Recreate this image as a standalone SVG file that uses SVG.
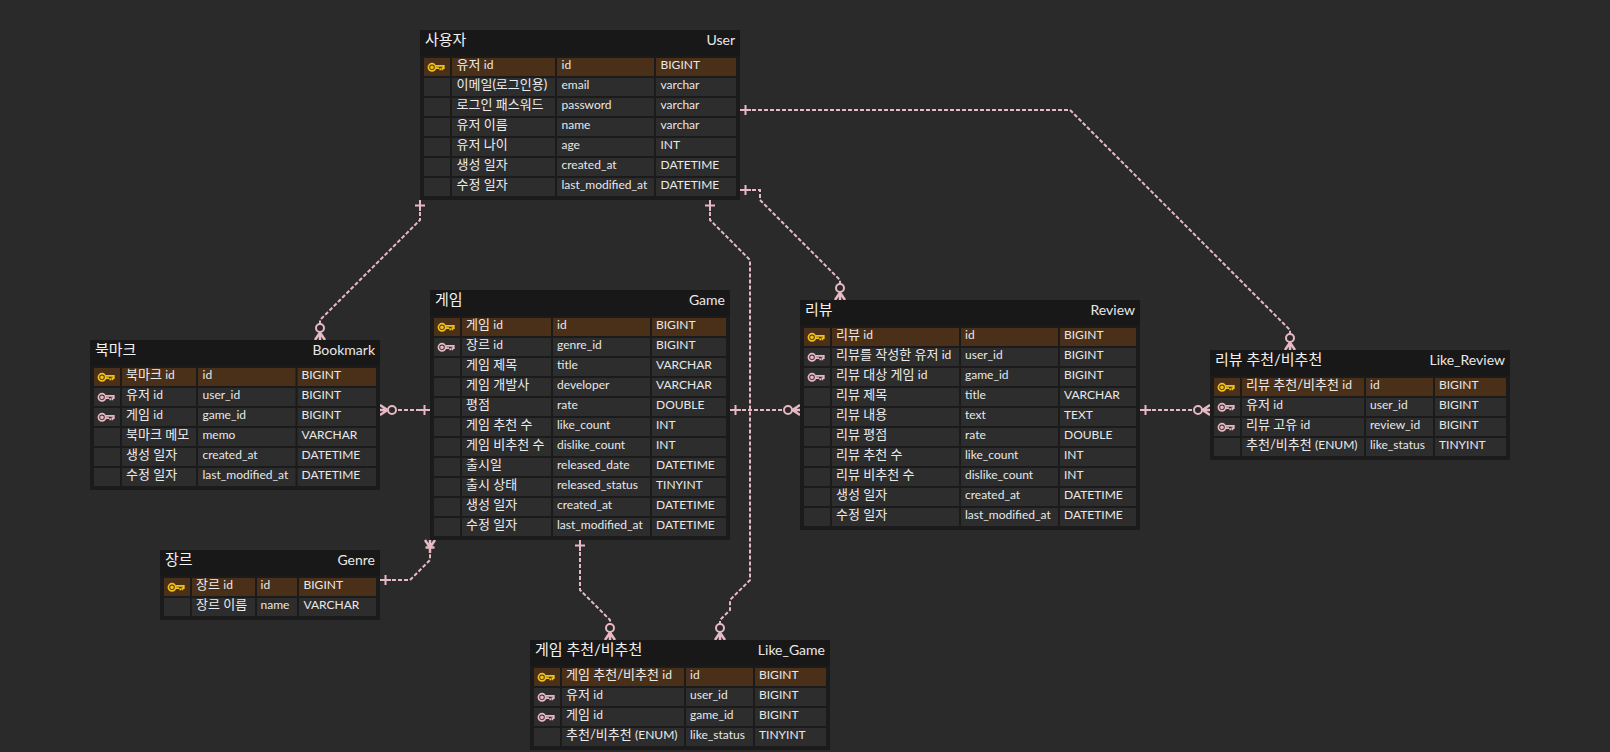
<svg xmlns="http://www.w3.org/2000/svg" width="1610" height="752" viewBox="0 0 1610 752">
<style>
text{font-family:Lato,"Noto Sans CJK KR",sans-serif;font-size:12px;fill:#e8e8e8}
.k{font-size:13px;fill:#ececec}
.l{font-size:12px}
.h{font-size:15px;fill:#f2f2f2}
.e{font-size:14px;text-anchor:end}
.f{fill:#1b1b1b}
.t{fill:#181818}
.r{fill:#2d2d2d}
.p{fill:#4a3019}
.c{fill:none;stroke:#e6b9c4;stroke-width:2;stroke-dasharray:4 2}
.m{fill:none;stroke:#e6b9c4;stroke-width:2}
.w{fill:none;stroke:#e6b9c4;stroke-width:2.500}
.o{fill:#2a2a2a;stroke:#e6b9c4;stroke-width:2}
.kp{color:#f1c21b}
.kf{color:#e6b9c4}
</style>
<defs>
<g id="key" fill="none" stroke="currentColor" stroke-width="1.7">
<circle cx="8" cy="0.300" r="3.600"/><circle cx="8" cy="0.300" r="1"/><path d="M11.600-1.200H19.800V1.200H18.400V3.200M16.200 1.200V3.200M11.600 1.200H15"/>
</g>
<g id="one"><path class="m" d="M0 0H11M5.500-5V5"/></g>
<g id="zm"><path class="w" d="M0 0H-8M0-5L-7.500 0L0 5"/><circle class="o" cx="-12" cy="0" r="4"/></g>
</defs>
<rect width="1610" height="752" fill="#2a2a2a"/>

<g id="connectors">
<path class="c" d="M420 200V220L320 320V340"/>
<path class="c" d="M740 110H1070L1290 330V350"/>
<path class="c" d="M740 190H760V200L840 280V300"/>
<path class="c" d="M710 200V220L750 260V580L730 600V610L720 620V640"/>
<path class="c" d="M580 540V590L610 620V640"/>
<path class="c" d="M380 410H430"/>
<path class="c" d="M730 410H800"/>
<path class="c" d="M1140 410H1210"/>
<path class="c" d="M380 580H410L430 560V540"/>
<use href="#one" transform="translate(420 200) rotate(90)"/>
<use href="#zm" transform="translate(320 340) rotate(90)"/>
<use href="#one" transform="translate(740 110)"/>
<use href="#zm" transform="translate(1290 350) rotate(90)"/>
<use href="#one" transform="translate(740 190)"/>
<use href="#zm" transform="translate(840 300) rotate(90)"/>
<use href="#one" transform="translate(710 200) rotate(90)"/>
<use href="#zm" transform="translate(720 640) rotate(90)"/>
<use href="#one" transform="translate(580 540) rotate(90)"/>
<use href="#zm" transform="translate(610 640) rotate(90)"/>
<use href="#zm" transform="translate(380 410) rotate(180)"/>
<use href="#one" transform="translate(430 410) rotate(180)"/>
<use href="#one" transform="translate(730 410)"/>
<use href="#zm" transform="translate(800 410)"/>
<use href="#one" transform="translate(1140 410)"/>
<use href="#zm" transform="translate(1210 410)"/>
<use href="#one" transform="translate(380 580)"/>
<path class="w" d="M430 540V553M425 540L430 547.500L435 540M425.500 547.500H434.500"/>
</g>

<g id="user">
<rect class="f" x="420" y="30" width="320" height="170"/><rect class="t" x="420" y="30" width="320" height="26"/>
<text class="h" x="425" y="45">사용자</text><text class="e" x="735" y="45">User</text>
<rect class="p" x="424" y="58" width="312" height="18"/><rect class="r" x="424" y="78" width="312" height="18"/><rect class="r" x="424" y="98" width="312" height="18"/><rect class="r" x="424" y="118" width="312" height="18"/><rect class="r" x="424" y="138" width="312" height="18"/><rect class="r" x="424" y="158" width="312" height="18"/><rect class="r" x="424" y="178" width="312" height="18"/>
<path class="f" d="M450 58h2v138h-2zM555 58h2v138h-2zM654 58h2v138h-2z"/>
<use href="#key" class="kp" transform="translate(424 67)"/>
<text class="k" x="456.500" y="69">유저 <tspan class="l">id</tspan></text><text x="561.500" y="69">id</text><text x="660.500" y="69">BIGINT</text>
<text class="k" x="456.500" y="89">이메일(로그인용)</text><text x="561.500" y="89">email</text><text x="660.500" y="89">varchar</text>
<text class="k" x="456.500" y="109">로그인 패스워드</text><text x="561.500" y="109">password</text><text x="660.500" y="109">varchar</text>
<text class="k" x="456.500" y="129">유저 이름</text><text x="561.500" y="129">name</text><text x="660.500" y="129">varchar</text>
<text class="k" x="456.500" y="149">유저 나이</text><text x="561.500" y="149">age</text><text x="660.500" y="149">INT</text>
<text class="k" x="456.500" y="169">생성 일자</text><text x="561.500" y="169">created_at</text><text x="660.500" y="169">DATETIME</text>
<text class="k" x="456.500" y="189">수정 일자</text><text x="561.500" y="189">last_modified_at</text><text x="660.500" y="189">DATETIME</text>
</g>

<g id="bookmark">
<rect class="f" x="90" y="340" width="290" height="150"/><rect class="t" x="90" y="340" width="290" height="26"/>
<text class="h" x="95" y="355">북마크</text><text class="e" x="375" y="355">Bookmark</text>
<rect class="p" x="94" y="368" width="282" height="18"/><rect class="r" x="94" y="388" width="282" height="18"/><rect class="r" x="94" y="408" width="282" height="18"/><rect class="r" x="94" y="428" width="282" height="18"/><rect class="r" x="94" y="448" width="282" height="18"/><rect class="r" x="94" y="468" width="282" height="18"/>
<path class="f" d="M120 368h2v118h-2zM196 368h2v118h-2zM295.500 368h2v118h-2z"/>
<use href="#key" class="kp" transform="translate(94 377)"/><use href="#key" class="kf" transform="translate(94 397)"/><use href="#key" class="kf" transform="translate(94 417)"/>
<text class="k" x="126" y="379">북마크 <tspan class="l">id</tspan></text><text x="202.500" y="379">id</text><text x="301.500" y="379">BIGINT</text>
<text class="k" x="126" y="399">유저 <tspan class="l">id</tspan></text><text x="202.500" y="399">user_id</text><text x="301.500" y="399">BIGINT</text>
<text class="k" x="126" y="419">게임 <tspan class="l">id</tspan></text><text x="202.500" y="419">game_id</text><text x="301.500" y="419">BIGINT</text>
<text class="k" x="126" y="439">북마크 메모</text><text x="202.500" y="439">memo</text><text x="301.500" y="439">VARCHAR</text>
<text class="k" x="126" y="459">생성 일자</text><text x="202.500" y="459">created_at</text><text x="301.500" y="459">DATETIME</text>
<text class="k" x="126" y="479">수정 일자</text><text x="202.500" y="479">last_modified_at</text><text x="301.500" y="479">DATETIME</text>
</g>

<g id="genre">
<rect class="f" x="160" y="550" width="220" height="70"/><rect class="t" x="160" y="550" width="220" height="26"/>
<text class="h" x="165" y="565">장르</text><text class="e" x="375" y="565">Genre</text>
<rect class="p" x="164" y="578" width="212" height="18"/><rect class="r" x="164" y="598" width="212" height="18"/>
<path class="f" d="M190 578h2v38h-2zM255 578h2v38h-2zM297 578h2v38h-2z"/>
<use href="#key" class="kp" transform="translate(164 587)"/>
<text class="k" x="196" y="589">장르 <tspan class="l">id</tspan></text><text x="260.500" y="589">id</text><text x="303.500" y="589">BIGINT</text>
<text class="k" x="196" y="609">장르 이름</text><text x="260.500" y="609">name</text><text x="303.500" y="609">VARCHAR</text>
</g>

<g id="game">
<rect class="f" x="430" y="290" width="300" height="250"/><rect class="t" x="430" y="290" width="300" height="26"/>
<text class="h" x="435" y="305">게임</text><text class="e" x="725" y="305">Game</text>
<rect class="p" x="434" y="318" width="292" height="18"/><rect class="r" x="434" y="338" width="292" height="18"/><rect class="r" x="434" y="358" width="292" height="18"/><rect class="r" x="434" y="378" width="292" height="18"/><rect class="r" x="434" y="398" width="292" height="18"/><rect class="r" x="434" y="418" width="292" height="18"/><rect class="r" x="434" y="438" width="292" height="18"/><rect class="r" x="434" y="458" width="292" height="18"/><rect class="r" x="434" y="478" width="292" height="18"/><rect class="r" x="434" y="498" width="292" height="18"/><rect class="r" x="434" y="518" width="292" height="18"/>
<path class="f" d="M460 318h2v218h-2zM551 318h2v218h-2zM650 318h2v218h-2z"/>
<use href="#key" class="kp" transform="translate(434 327)"/><use href="#key" class="kf" transform="translate(434 347)"/>
<text class="k" x="466" y="329">게임 <tspan class="l">id</tspan></text><text x="557" y="329">id</text><text x="656" y="329">BIGINT</text>
<text class="k" x="466" y="349">장르 <tspan class="l">id</tspan></text><text x="557" y="349">genre_id</text><text x="656" y="349">BIGINT</text>
<text class="k" x="466" y="369">게임 제목</text><text x="557" y="369">title</text><text x="656" y="369">VARCHAR</text>
<text class="k" x="466" y="389">게임 개발사</text><text x="557" y="389">developer</text><text x="656" y="389">VARCHAR</text>
<text class="k" x="466" y="409">평점</text><text x="557" y="409">rate</text><text x="656" y="409">DOUBLE</text>
<text class="k" x="466" y="429">게임 추천 수</text><text x="557" y="429">like_count</text><text x="656" y="429">INT</text>
<text class="k" x="466" y="449">게임 비추천 수</text><text x="557" y="449">dislike_count</text><text x="656" y="449">INT</text>
<text class="k" x="466" y="469">출시일</text><text x="557" y="469">released_date</text><text x="656" y="469">DATETIME</text>
<text class="k" x="466" y="489">출시 상태</text><text x="557" y="489">released_status</text><text x="656" y="489">TINYINT</text>
<text class="k" x="466" y="509">생성 일자</text><text x="557" y="509">created_at</text><text x="656" y="509">DATETIME</text>
<text class="k" x="466" y="529">수정 일자</text><text x="557" y="529">last_modified_at</text><text x="656" y="529">DATETIME</text>
</g>

<g id="review">
<rect class="f" x="800" y="300" width="340" height="230"/><rect class="t" x="800" y="300" width="340" height="26"/>
<text class="h" x="805" y="315">리뷰</text><text class="e" x="1135" y="315">Review</text>
<rect class="p" x="804" y="328" width="332" height="18"/><rect class="r" x="804" y="348" width="332" height="18"/><rect class="r" x="804" y="368" width="332" height="18"/><rect class="r" x="804" y="388" width="332" height="18"/><rect class="r" x="804" y="408" width="332" height="18"/><rect class="r" x="804" y="428" width="332" height="18"/><rect class="r" x="804" y="448" width="332" height="18"/><rect class="r" x="804" y="468" width="332" height="18"/><rect class="r" x="804" y="488" width="332" height="18"/><rect class="r" x="804" y="508" width="332" height="18"/>
<path class="f" d="M830 328h2v198h-2zM959 328h2v198h-2zM1058 328h2v198h-2z"/>
<use href="#key" class="kp" transform="translate(804 337)"/><use href="#key" class="kf" transform="translate(804 357)"/><use href="#key" class="kf" transform="translate(804 377)"/>
<text class="k" x="836" y="339">리뷰 <tspan class="l">id</tspan></text><text x="965" y="339">id</text><text x="1064" y="339">BIGINT</text>
<text class="k" x="836" y="359">리뷰를 작성한 유저 <tspan class="l">id</tspan></text><text x="965" y="359">user_id</text><text x="1064" y="359">BIGINT</text>
<text class="k" x="836" y="379">리뷰 대상 게임 <tspan class="l">id</tspan></text><text x="965" y="379">game_id</text><text x="1064" y="379">BIGINT</text>
<text class="k" x="836" y="399">리뷰 제목</text><text x="965" y="399">title</text><text x="1064" y="399">VARCHAR</text>
<text class="k" x="836" y="419">리뷰 내용</text><text x="965" y="419">text</text><text x="1064" y="419">TEXT</text>
<text class="k" x="836" y="439">리뷰 평점</text><text x="965" y="439">rate</text><text x="1064" y="439">DOUBLE</text>
<text class="k" x="836" y="459">리뷰 추천 수</text><text x="965" y="459">like_count</text><text x="1064" y="459">INT</text>
<text class="k" x="836" y="479">리뷰 비추천 수</text><text x="965" y="479">dislike_count</text><text x="1064" y="479">INT</text>
<text class="k" x="836" y="499">생성 일자</text><text x="965" y="499">created_at</text><text x="1064" y="499">DATETIME</text>
<text class="k" x="836" y="519">수정 일자</text><text x="965" y="519">last_modified_at</text><text x="1064" y="519">DATETIME</text>
</g>

<g id="like_review">
<rect class="f" x="1210" y="350" width="300" height="110"/><rect class="t" x="1210" y="350" width="300" height="26"/>
<text class="h" x="1215" y="365">리뷰 추천/비추천</text><text class="e" x="1505" y="365">Like_Review</text>
<rect class="p" x="1214" y="378" width="292" height="18"/><rect class="r" x="1214" y="398" width="292" height="18"/><rect class="r" x="1214" y="418" width="292" height="18"/><rect class="r" x="1214" y="438" width="292" height="18"/>
<path class="f" d="M1240 378h2v78h-2zM1364 378h2v78h-2zM1433 378h2v78h-2z"/>
<use href="#key" class="kp" transform="translate(1214 387)"/><use href="#key" class="kf" transform="translate(1214 407)"/><use href="#key" class="kf" transform="translate(1214 427)"/>
<text class="k" x="1246" y="389">리뷰 추천/비추천 <tspan class="l">id</tspan></text><text x="1370" y="389">id</text><text x="1439" y="389">BIGINT</text>
<text class="k" x="1246" y="409">유저 <tspan class="l">id</tspan></text><text x="1370" y="409">user_id</text><text x="1439" y="409">BIGINT</text>
<text class="k" x="1246" y="429">리뷰 고유 <tspan class="l">id</tspan></text><text x="1370" y="429">review_id</text><text x="1439" y="429">BIGINT</text>
<text class="k" x="1246" y="449">추천/비추천 <tspan class="l">(ENUM)</tspan></text><text x="1370" y="449">like_status</text><text x="1439" y="449">TINYINT</text>
</g>

<g id="like_game">
<rect class="f" x="530" y="640" width="300" height="110"/><rect class="t" x="530" y="640" width="300" height="26"/>
<text class="h" x="535" y="655">게임 추천/비추천</text><text class="e" x="825" y="655">Like_Game</text>
<rect class="p" x="534" y="668" width="292" height="18"/><rect class="r" x="534" y="688" width="292" height="18"/><rect class="r" x="534" y="708" width="292" height="18"/><rect class="r" x="534" y="728" width="292" height="18"/>
<path class="f" d="M560 668h2v78h-2zM684 668h2v78h-2zM753 668h2v78h-2z"/>
<use href="#key" class="kp" transform="translate(534 677)"/><use href="#key" class="kf" transform="translate(534 697)"/><use href="#key" class="kf" transform="translate(534 717)"/>
<text class="k" x="566" y="679">게임 추천/비추천 <tspan class="l">id</tspan></text><text x="690" y="679">id</text><text x="759" y="679">BIGINT</text>
<text class="k" x="566" y="699">유저 <tspan class="l">id</tspan></text><text x="690" y="699">user_id</text><text x="759" y="699">BIGINT</text>
<text class="k" x="566" y="719">게임 <tspan class="l">id</tspan></text><text x="690" y="719">game_id</text><text x="759" y="719">BIGINT</text>
<text class="k" x="566" y="739">추천/비추천 <tspan class="l">(ENUM)</tspan></text><text x="690" y="739">like_status</text><text x="759" y="739">TINYINT</text>
</g>
</svg>
